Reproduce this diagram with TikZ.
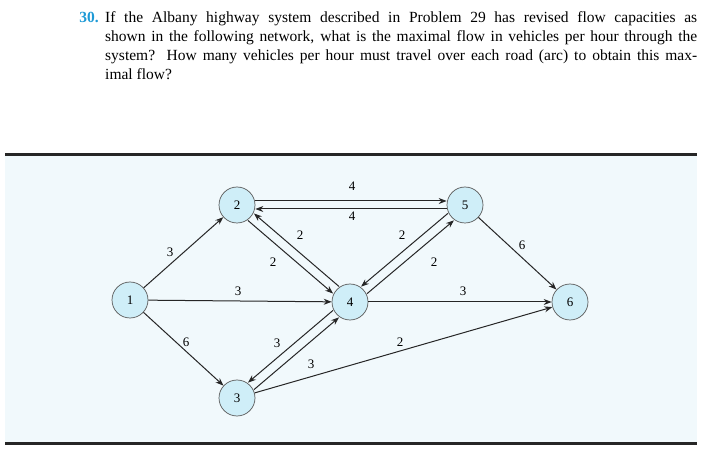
\documentclass[tikz,border=0pt]{standalone}
\usepackage{fontspec}
\setmainfont{Liberation Serif}
\usetikzlibrary{arrows.meta}
\definecolor{panel}{HTML}{F1F9FC}
\definecolor{nodefill}{HTML}{CFEEF8}
\definecolor{numblue}{HTML}{1E9AD6}
\begin{document}
\begin{tikzpicture}[x=1pt,y=-1pt,
  vtx/.style={circle,draw=black!65,fill=nodefill,line width=0.7pt,minimum size=36pt,inner sep=0pt,font=\fontsize{13}{13}\selectfont},
  arr/.style={-{Stealth[length=8pt,width=6pt]},draw=black!85,line width=1pt},
  lbl/.style={font=\fontsize{13}{13}\selectfont,inner sep=0pt},
  tline/.style={anchor=base west,inner sep=0pt,font=\fontsize{15.5}{19}\selectfont}]
\useasboundingbox (0,0) rectangle (710,462);
\fill[panel] (5,155) rectangle (697,443);
\draw[line width=3pt,black!85] (5,155) -- (697,155);
\draw[line width=3pt,black!85] (5,443) -- (697,443);
\node[anchor=base east,inner sep=0pt,font=\fontsize{15.5}{19}\selectfont\bfseries,text=numblue] (num) at (99,23) {30.};
\node[tline] (t1) at (105,23) {\makebox[592pt][s]{If the Albany highway system described in Problem 29 has revised flow capacities as}};
\node[tline] (t2) at (105,42) {\makebox[592pt][s]{shown in the following network, what is the maximal flow in vehicles per hour through the}};
\node[tline] (t3) at (105,61) {\makebox[592pt][s]{system? How many vehicles per hour must travel over each road (arc) to obtain this max-}};
\node[tline] (t4) at (105,80) {imal flow?};
\node[vtx] (n1) at (130,300) {1};
\node[vtx] (n2) at (237,205) {2};
\node[vtx] (n3) at (237,398) {3};
\node[vtx] (n4) at (350,302) {4};
\node[vtx] (n5) at (465,205) {5};
\node[vtx] (n6) at (570,302) {6};
\draw[arr] (n1) -- (n2);
\draw[arr] (n1) -- (n4);
\draw[arr] (n1) -- (n3);
\draw[arr,transform canvas={yshift=4pt}] (n2) -- (n5);
\draw[arr,transform canvas={yshift=-4pt}] (n5) -- (n2);
\draw[arr,transform canvas={xshift=-3pt,yshift=-3.5pt}] (n2) -- (n4);
\draw[arr,transform canvas={xshift=3pt,yshift=3.5pt}] (n4) -- (n2);
\draw[arr,transform canvas={xshift=-3pt,yshift=3.5pt}] (n5) -- (n4);
\draw[arr,transform canvas={xshift=3pt,yshift=-3.5pt}] (n4) -- (n5);
\draw[arr,transform canvas={xshift=-3pt,yshift=3.5pt}] (n4) -- (n3);
\draw[arr,transform canvas={xshift=3pt,yshift=-3.5pt}] (n3) -- (n4);
\draw[arr] (n4) -- (n6);
\draw[arr] (n5) -- (n6);
\draw[arr] (n3) -- (n6);
\node[lbl] (l12) at (170,252) {3};
\node[lbl] (l14) at (238,291) {3};
\node[lbl] (l13) at (186,342) {6};
\node[lbl] (l25) at (352,186) {4};
\node[lbl] (l52) at (352,216) {4};
\node[lbl] (l42) at (300,235) {2};
\node[lbl] (l24) at (273,262) {2};
\node[lbl] (l54) at (402,235) {2};
\node[lbl] (l45) at (434,262) {2};
\node[lbl] (l46) at (463,291) {3};
\node[lbl] (l56) at (522,245) {6};
\node[lbl] (l43) at (277,343) {3};
\node[lbl] (l34) at (311,364) {3};
\node[lbl] (l36) at (400,342) {2};
\end{tikzpicture}
\end{document}
